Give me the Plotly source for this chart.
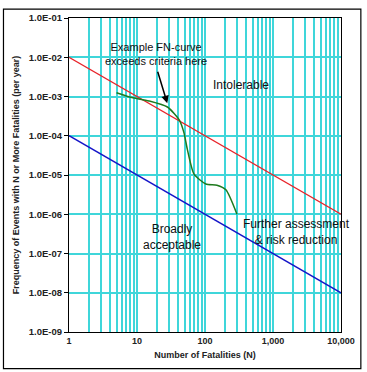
import plotly.graph_objects as go

# Data
criteria_n = [1, 10000]
intolerable_f = [1e-2, 1e-6]
acceptable_f = [1e-4, 1e-8]

fn_n = [5.0, 7.8, 15, 28, 42, 49, 55, 69, 103, 150, 203, 295]
fn_f = [1.25e-3, 9.7e-4, 7.7e-4, 5.4e-4, 2.5e-4, 1.2e-4, 4.5e-5, 1.05e-5, 5.9e-6, 5.5e-6, 4.2e-6, 1.0e-6]

y_tickvals = [1e-1, 1e-2, 1e-3, 1e-4, 1e-5, 1e-6, 1e-7, 1e-8, 1e-9]
y_ticktext = ["1.0E-01", "1.0E-02", "1.0E-03", "1.0E-04", "1.0E-05",
              "1.0E-06", "1.0E-07", "1.0E-08", "1.0E-09"]
x_tickvals = [1, 10, 100, 1000, 10000]
x_ticktext = ["1", "10", "100", "1,000", "10,000"]

minor_x = [m * d for d in [1, 10, 100, 1000] for m in range(2, 10)]

GRID = "#3FD6DA"
FONT = "Liberation Sans, Arial, sans-serif"

fig = go.Figure()
fig.add_trace(go.Scatter(x=criteria_n, y=intolerable_f, mode="lines",
                         line=dict(color="#E8232A", width=1.3), showlegend=False))
fig.add_trace(go.Scatter(x=criteria_n, y=acceptable_f, mode="lines",
                         line=dict(color="#1515C8", width=1.5), showlegend=False))
fig.add_trace(go.Scatter(x=fn_n, y=fn_f, mode="lines",
                         line=dict(color="#1E7A1E", width=1.5, shape="spline", smoothing=0.6),
                         showlegend=False))

fig.update_xaxes(type="log", range=[0, 4], tickvals=x_tickvals, ticktext=x_ticktext,
                 showgrid=True, gridcolor=GRID, gridwidth=1.5,
                 minor=dict(tickvals=minor_x, showgrid=True, gridcolor=GRID, gridwidth=1.5),
                 showline=True, mirror=True, linecolor="black", linewidth=1,
                 ticks="", zeroline=False,
                 tickfont=dict(family=FONT, size=9, color="#222", weight="bold"),
                 title=dict(text="Number of Fatalities (N)", standoff=6,
                            font=dict(family=FONT, size=9, color="#222", weight="bold")))
fig.update_yaxes(type="log", range=[-9, -1], tickvals=y_tickvals, ticktext=y_ticktext,
                 showgrid=True, gridcolor=GRID, gridwidth=1.5,
                 showline=True, mirror=True, linecolor="black", linewidth=1,
                 ticks="outside", ticklen=4, tickcolor="black", zeroline=False,
                 tickfont=dict(family=FONT, size=9.5, color="#222", weight="bold"),
                 title=dict(text="Frequency of Events with N or More Fatalities (per year)",
                            standoff=7,
                            font=dict(family=FONT, size=9, color="#222", weight="bold")))

ann_font = dict(family=FONT, size=12, color="#111")
fig.add_annotation(x=1.445, y=-3.17, xref="x", yref="y", ax=-10, ay=-33,
                   axref="pixel", ayref="pixel", showarrow=True, arrowhead=2,
                   arrowsize=1, arrowwidth=1.5, arrowcolor="black", text="")
fig.add_annotation(x=1.285, y=-1.907, text="Example FN-curve<br>exceeds criteria here",
                   showarrow=False, font=dict(family=FONT, size=11, color="#111"))
fig.add_annotation(x=2.526, y=-2.713, text="Intolerable", showarrow=False, font=ann_font)
fig.add_annotation(x=1.518, y=-6.567, text="Broadly<br>acceptable", showarrow=False, font=ann_font)
fig.add_annotation(x=3.343, y=-6.44, text="Further assessment<br>& risk reduction",
                   showarrow=False, font=ann_font)

fig.add_shape(type="rect", xref="paper", yref="paper",
              x0=-0.2409, x1=1.073, y0=-0.1164, y1=1.028,
              line=dict(color="black", width=1.2), layer="above")

fig.update_layout(width=367, height=372, margin=dict(l=69, r=24, t=14, b=40),
                  plot_bgcolor="white", paper_bgcolor="white",
                  font=dict(family=FONT))

fig.write_html("out.html", config={"displayModeBar": False},
               post_script="document.body.style.margin='0';document.body.style.overflow='hidden';")
